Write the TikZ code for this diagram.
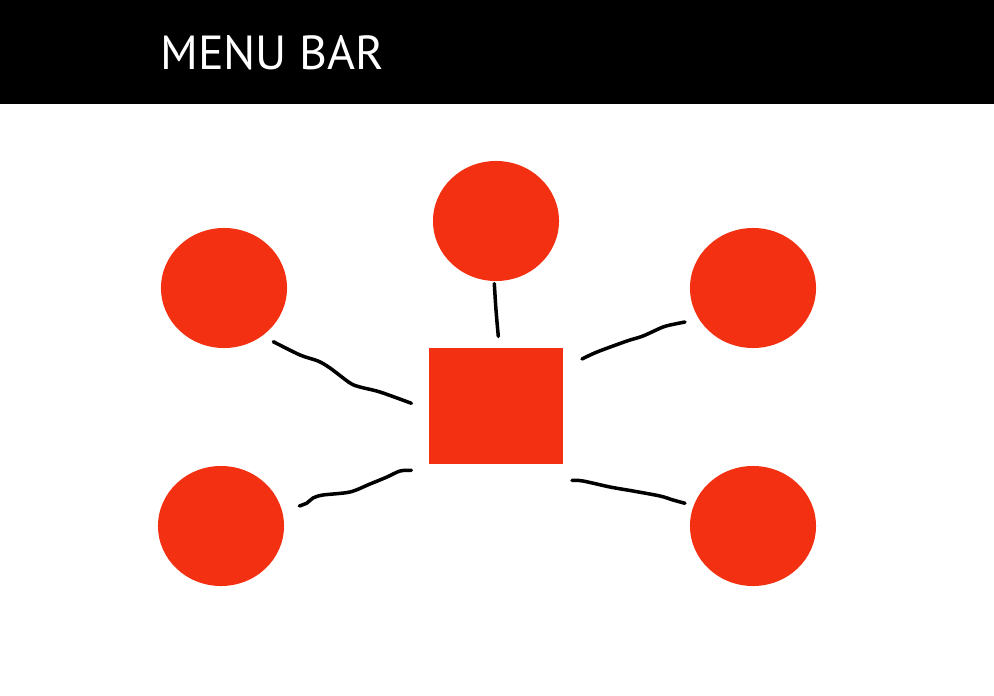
\documentclass[tikz,border=0pt]{standalone}
\usepackage{fontspec}
\setmainfont{PT Sans}
\usepackage{tikz}
\usepackage{xcolor}
\usetikzlibrary{shapes.geometric, positioning, calc}
\definecolor{dotred}{RGB}{243,48,18}

\begin{document}
\begin{tikzpicture}[
            x=0.025cm, y=-0.025cm,
            bubble/.style={ellipse, fill=dotred, minimum width=3.15cm, minimum height=3cm, inner sep=0pt},
            hubbox/.style={rectangle, fill=dotred, minimum width=3.35cm, minimum height=2.9cm, inner sep=0pt},
            wire/.style={draw=black, line width=2.5pt, line cap=round, line join=round}
        ]
            \useasboundingbox (0,0) rectangle (994,696);

% Menu bar
            \fill[black] (0,0) rectangle (994,104);
            \node[anchor=base west, inner sep=0pt, text=white, font=\fontsize{34}{40}\selectfont] (menu) at (160,69.5) {MENU BAR};

% Centre square
            \node[hubbox] (hub) at (496,406) {};

% Circles
            \node[bubble] (top) at (496,221) {};
            \node[bubble] (tl) at (224,288) {};
            \node[bubble] (tr) at (753,288) {};
            \node[bubble] (bl) at (221,526) {};
            \node[bubble] (br) at (753,526) {};

% Hand drawn links
            \draw[wire] plot[smooth, tension=0.5] coordinates {($(top.south)+(-1.7,2.3)$) (496,310) ($(hub.north)+(2.3,-11.3)$)};
            \draw[wire] plot[smooth, tension=0.5] coordinates {($(tl.center)+(49.3,53.7)$) (300,355) (318,361) (330,368) (350,383) (360,387) (380,392) ($(hub.west)+(-17.3,-2.7)$)};
            \draw[wire] plot[smooth, tension=0.5] coordinates {($(hub.north east)+(18.7,11.3)$) (597,352) (627,341) (643,336) (663,327) (675,324) ($(tr.center)+(-68,34)$)};
            \draw[wire] plot[smooth, tension=0.5] coordinates {($(hub.south west)+(-17.3,6)$) (400,471) (387,477) (370,484) (350,492) (323,495) (313,498) (307,503) ($(bl.center)+(78.3,-20)$)};
            \draw[wire] plot[smooth, tension=0.5] coordinates {($(hub.south east)+(8.7,16)$) (583,481) (610,487) (633,491) (660,496) (673,500) ($(br.center)+(-68,-22.7)$)};

        \end{tikzpicture}
\end{document}
